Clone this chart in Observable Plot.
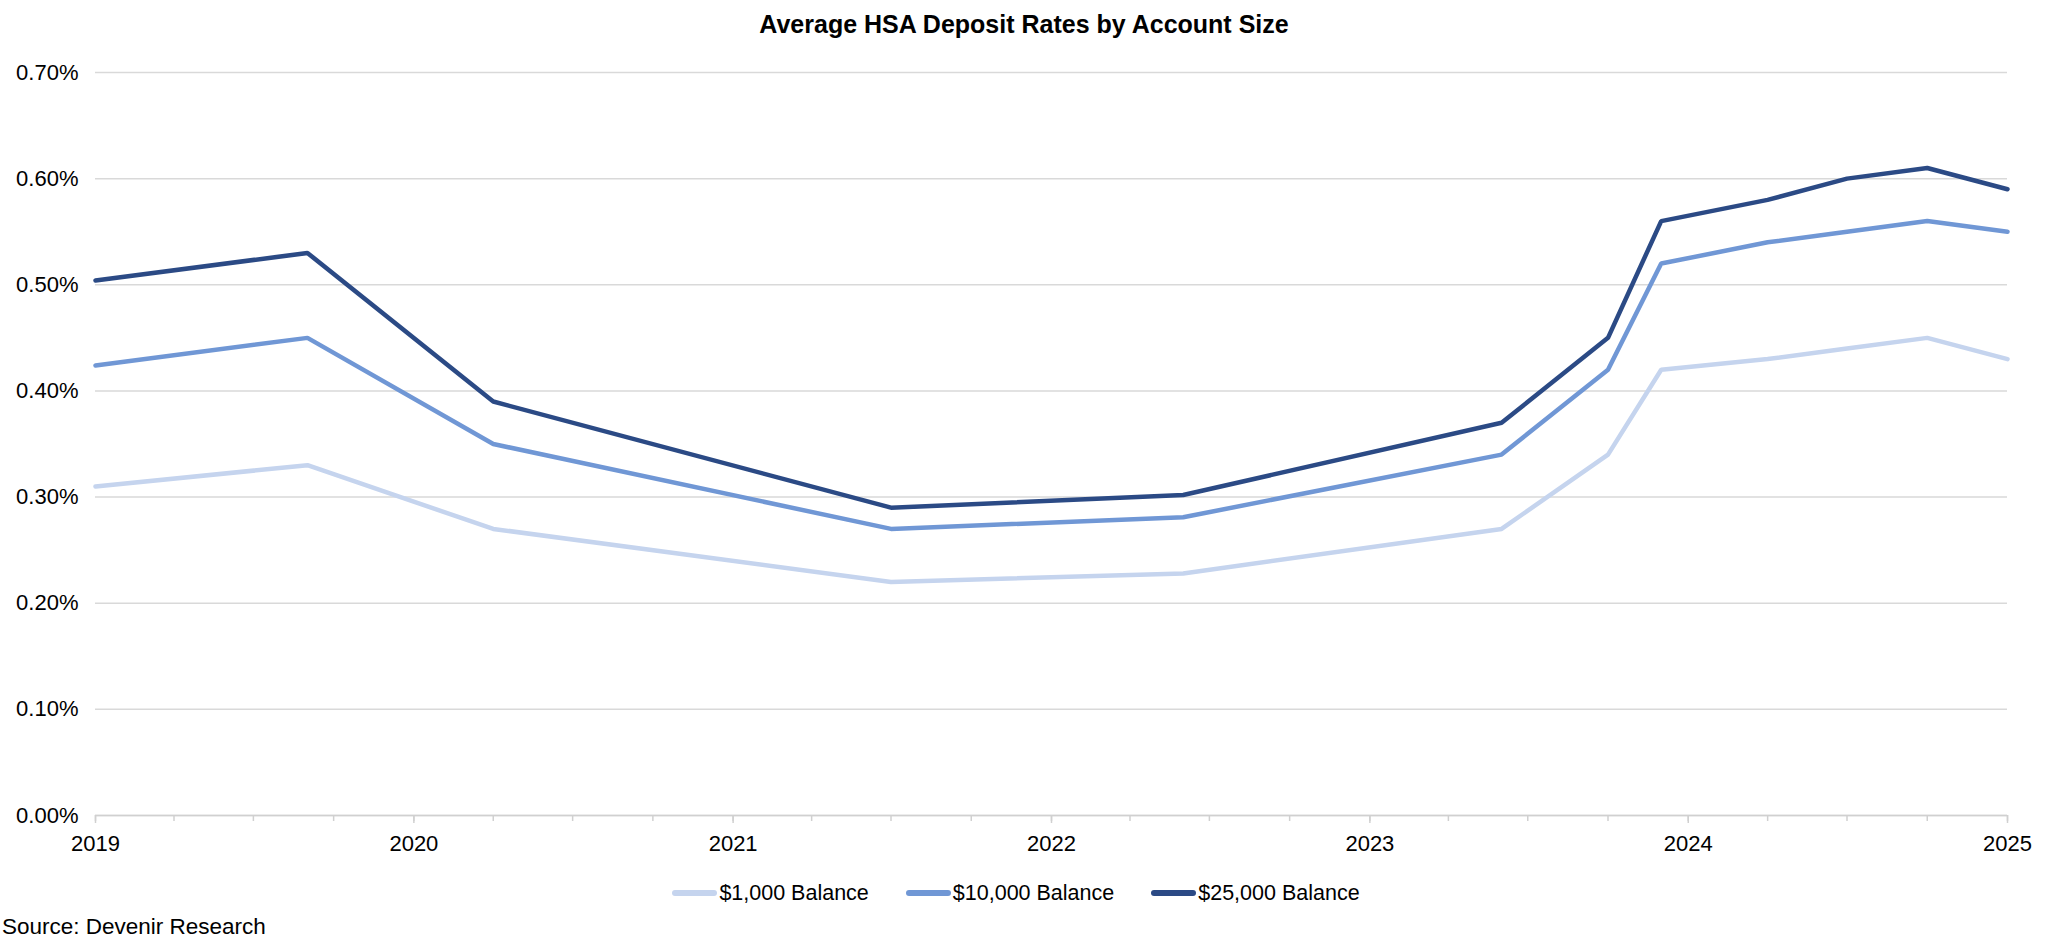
<!DOCTYPE html>
<html>
<head>
<meta charset="utf-8">
<script src="https://cdn.jsdelivr.net/npm/d3@7"></script>
<script src="https://cdn.jsdelivr.net/npm/@observablehq/plot@0.6"></script>
<style>
  body { margin: 0; background: #fff; font-family: "Liberation Sans", Arial, sans-serif; }
  #wrap { width: 2048px; height: 936px; position: relative; }
  #title { height: 48px; line-height: 48px; text-align: center; font-weight: bold; font-size: 25px; color: #000; }
  #legend { height: 46px; display: flex; justify-content: center; align-items: center; font-size: 21.5px; color: #000; padding-right: 16px; }
  .item { display: flex; align-items: center; margin: 0 18.5px; }
  .sw { width: 45px; height: 6px; border-radius: 3px; margin-right: 2px; }
  #source { font-size: 22.5px; color: #000; padding-left: 2px; line-height: 22px; }
</style>
</head>
<body>
<div id="wrap">
  <div id="title">Average HSA Deposit Rates by Account Size</div>
  <div id="chart"></div>
  <div id="legend"></div>
  <div id="source">Source: Devenir Research</div>
</div>
<script>
const dates = ["2019-01-01","2019-09-01","2020-04-01","2021-07-01","2022-06-01","2023-06-01","2023-10-01","2023-12-01","2024-04-01","2024-07-01","2024-10-01","2025-01-01"];
const series = ["$1,000 Balance", "$10,000 Balance", "$25,000 Balance"];
const colors = ["#c5d4ee", "#7097d5", "#2b4a85"];
const bal1000  = [0.31, 0.33, 0.27, 0.22, 0.228, 0.27, 0.34, 0.42, 0.43, 0.44, 0.45, 0.43];
const bal10000 = [0.424, 0.45, 0.35, 0.27, 0.281, 0.34, 0.42, 0.52, 0.54, 0.55, 0.56, 0.55];
const bal25000 = [0.504, 0.53, 0.39, 0.29, 0.302, 0.37, 0.45, 0.56, 0.58, 0.60, 0.61, 0.59];
const yTicks = [0, 0.1, 0.2, 0.3, 0.4, 0.5, 0.6, 0.7];
const yearTicks = ["2019","2020","2021","2022","2023","2024","2025"];

const values = [bal1000, bal10000, bal25000];
const data = [];
series.forEach((s, i) => dates.forEach((d, j) => data.push({series: s, date: new Date(d), value: values[i][j]})));
const years = yearTicks.map(y => new Date(y + "-01-01"));
const quarters = d3.utcMonth.every(3).range(years[0], d3.utcDay.offset(years[years.length - 1], 1));

const chart = Plot.plot({
  width: 2048,
  height: 822,
  marginLeft: 95,
  marginRight: 41,
  marginTop: 24,
  marginBottom: 55,
  style: {fontFamily: '"Liberation Sans", Arial, sans-serif', fontSize: "22px", color: "#000", background: "#fff"},
  x: {type: "utc", domain: [years[0], years[years.length - 1]], label: null},
  y: {domain: [0, 0.7], label: null},
  color: {domain: series, range: colors},
  marks: [
    Plot.gridY(yTicks, {stroke: "#d9d9d9", strokeOpacity: 1, strokeWidth: 1.5}),
    Plot.ruleY([0], {stroke: "#d0d0d0", strokeWidth: 1.5}),
    Plot.axisY(yTicks, {tickSize: 0, tickPadding: 17, tickFormat: d => d.toFixed(2) + "%", fontSize: 22, fill: "#000", label: null}),
    Plot.axisX(quarters, {tickSize: 6, tickFormat: () => "", stroke: "#d0d0d0", strokeWidth: 1.5, label: null}),
    Plot.axisX(years, {tickSize: 8, tickPadding: 12, tickFormat: d3.utcFormat("%Y"), stroke: "#d0d0d0", strokeWidth: 1.5, fontSize: 22, fill: "#000", label: null}),
    Plot.line(data, {x: "date", y: "value", z: "series", stroke: "series", strokeWidth: 4.5, strokeLinejoin: "miter"})
  ]
});
document.getElementById("chart").appendChild(chart);

const legend = document.getElementById("legend");
series.forEach((s, i) => {
  const it = document.createElement("div");
  it.className = "item";
  it.innerHTML = `<span class="sw" style="background:${colors[i]}"></span><span>${s}</span>`;
  legend.appendChild(it);
});
</script>
</body>
</html>
